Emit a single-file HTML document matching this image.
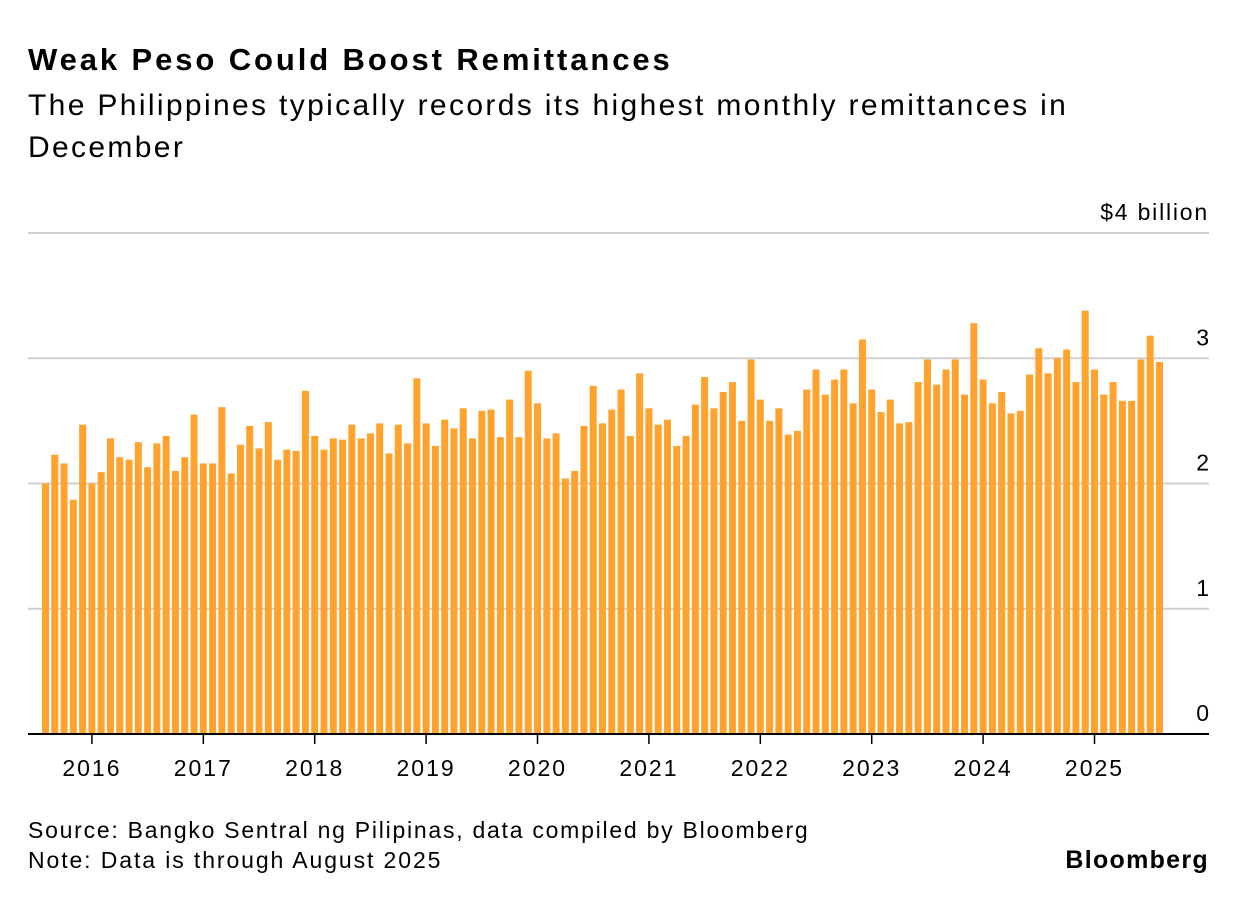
<!DOCTYPE html>
<html><head><meta charset="utf-8"><style>
body{margin:0;background:#fff;font-family:"Liberation Sans",sans-serif;color:#000}
#wrap{position:relative;width:1237px;height:904px;overflow:hidden}
.t{position:absolute;white-space:nowrap}
</style></head><body><div id="wrap">
<div class="t" style="left:28px;top:42px;font-size:31px;font-weight:bold;letter-spacing:2.9px">Weak Peso Could Boost Remittances</div>
<div class="t" style="left:28px;top:85px;font-size:30px;line-height:42px;letter-spacing:2.35px">The Philippines typically records its highest monthly remittances in<br>December</div>
<svg id="chart" width="1237" height="904" style="position:absolute;left:0;top:0"></svg>
<div class="t" style="left:28px;top:817px;font-size:23px;letter-spacing:1.75px">Source: Bangko Sentral ng Pilipinas, data compiled by Bloomberg</div>
<div class="t" style="left:28px;top:847px;font-size:23px;letter-spacing:1.9px">Note: Data is through August 2025</div>
<div class="t" style="right:28px;top:846px;font-size:25px;font-weight:bold;letter-spacing:1.3px">Bloomberg</div>
</div>
<script>
const values=[2.0,2.23,2.16,1.87,2.47,
2.0,2.09,2.36,2.21,2.19,2.33,2.13,2.32,2.38,2.10,2.21,2.55,
2.16,2.16,2.61,2.08,2.31,2.46,2.28,2.49,2.19,2.27,2.26,2.74,
2.38,2.27,2.36,2.35,2.47,2.36,2.40,2.48,2.24,2.47,2.32,2.84,
2.48,2.30,2.51,2.44,2.60,2.36,2.58,2.59,2.37,2.67,2.37,2.90,
2.64,2.36,2.40,2.04,2.10,2.46,2.78,2.48,2.59,2.75,2.38,2.88,
2.60,2.47,2.51,2.30,2.38,2.63,2.85,2.60,2.73,2.81,2.50,2.99,
2.67,2.50,2.60,2.39,2.42,2.75,2.91,2.71,2.83,2.91,2.64,3.15,
2.75,2.57,2.67,2.48,2.49,2.81,2.99,2.79,2.91,2.99,2.71,3.28,
2.83,2.64,2.73,2.56,2.58,2.87,3.08,2.88,3.00,3.07,2.81,3.38,
2.91,2.71,2.81,2.66,2.66,2.99,3.18,2.97];
const yTicks=[0,1,2,3,4];
const years=[2016,2017,2018,2019,2020,2021,2022,2023,2024,2025];
const startYear=2015, startMonth=7; // Aug 2015 (0-based month)
const NS="http://www.w3.org/2000/svg";
const svg=document.getElementById('chart');
const x0=45.5, step=(1159.5-45.5)/120, bw=7;
const xs=i=>x0+i*step;
const ys=v=>734-v*125.25;
function mk(t,a){const e=document.createElementNS(NS,t);for(const k in a)e.setAttribute(k,a[k]);svg.appendChild(e);return e;}
yTicks.forEach(v=>{
  if(v>0){const g=mk('line',{x1:28,x2:1209,y1:ys(v),y2:ys(v),stroke:'#cfcfcf','stroke-width':2});
  
  }
  const t=mk('text',{x:1209,y:ys(v)-13,'text-anchor':'end','font-size':23,'letter-spacing':v===4?1.8:0,'font-family':'Liberation Sans, sans-serif'});
  t.textContent=v===4?'$4 billion':String(v);
  
  
});
values.forEach((v,i)=>{
  const r=mk('rect',{x:xs(i)-bw/2,y:ys(v),width:bw,height:ys(0)-ys(v),fill:'#ffa32e'});
  
  
});
const ax=mk('line',{x1:28,x2:1209,y1:734,y2:734,stroke:'#000','stroke-width':2});


years.forEach(yr=>{
  const i=(yr-startYear)*12-startMonth;
  const tk=mk('line',{x1:xs(i),x2:xs(i),y1:735,y2:744,stroke:'#000','stroke-width':1.5});
  
  
  const t=mk('text',{x:xs(i),y:776,'text-anchor':'middle','font-size':23,'letter-spacing':2,'font-family':'Liberation Sans, sans-serif'});
  t.textContent=yr;
  
  
});
</script></body></html>
